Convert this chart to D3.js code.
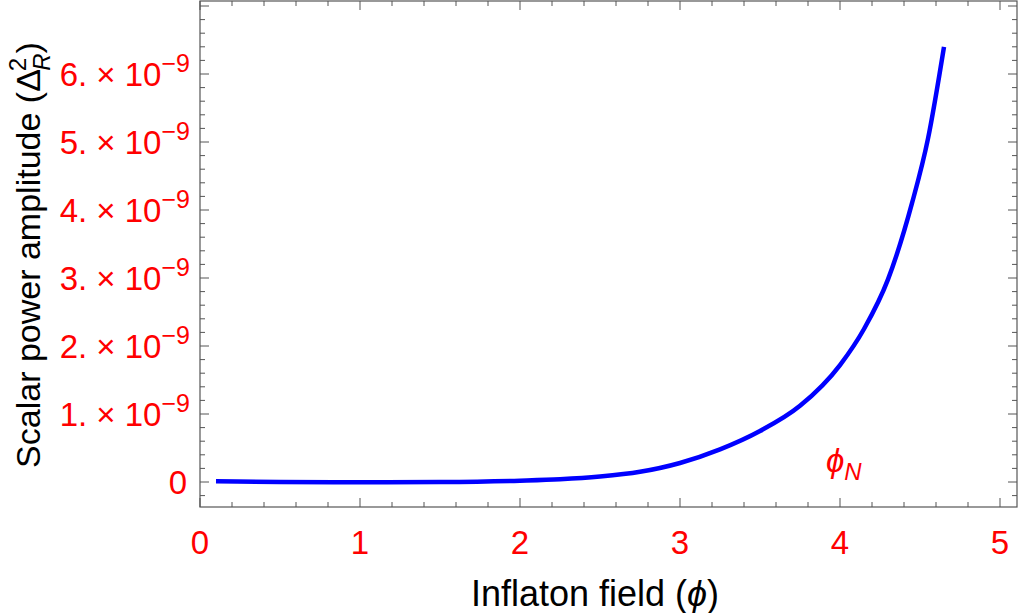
<!DOCTYPE html>
<html><head><meta charset="utf-8">
<script src="https://cdn.jsdelivr.net/npm/d3@7"></script>
<style>body{margin:0;background:#fff}text{font-family:"Liberation Sans",Arial,sans-serif}</style>
</head><body><svg id="chart" width="1020" height="613"></svg>
<script>
const phi = [0.1, 0.5, 1.0, 1.5, 2.0, 2.25, 2.5, 2.75, 3.0, 3.25, 3.5, 3.75, 4.0, 4.15, 4.3, 4.45, 4.55, 4.65];
const amp = [0.01, 0.0, -0.005, 0.0, 0.02, 0.04, 0.08, 0.15, 0.28, 0.48, 0.75, 1.12, 1.72, 2.25, 2.98, 4.1, 5.05, 6.4];
const yTicks = [1, 2, 3, 4, 5, 6];
const xTicks = [0, 1, 2, 3, 4, 5];

const svg = d3.select('#chart');
const m = {left: 200, right: 1017, top: 1, bottom: 507};
const x = d3.scaleLinear().domain([0, 5.1]).range([m.left, m.left + 160 * 5.1]);
const y = d3.scaleLinear().domain([0, 1]).range([482, 414]);

// frame
svg.append('rect').attr('x', m.left).attr('y', m.top).attr('width', m.right - m.left).attr('height', m.bottom - m.top)
  .attr('fill', 'none').attr('stroke', '#555').attr('stroke-width', 1.2);

// ticks
const g = svg.append('g').attr('stroke', '#555');
d3.range(0, 5.11, 0.2).forEach(v => {
  const major = Math.abs(v - Math.round(v)) < 1e-6;
  const len = major ? 9 : 5;
  g.append('line').attr('x1', x(v)).attr('x2', x(v)).attr('y1', m.bottom).attr('y2', m.bottom - len);
  g.append('line').attr('x1', x(v)).attr('x2', x(v)).attr('y1', m.top).attr('y2', m.top + len);
});
d3.range(-0.2, 7.1, 0.2).forEach(v => {
  const major = Math.abs(v - Math.round(v)) < 1e-6;
  const len = major ? 9 : 5;
  if (y(v) < m.top || y(v) > m.bottom) return;
  g.append('line').attr('y1', y(v)).attr('y2', y(v)).attr('x1', m.left).attr('x2', m.left + len);
  g.append('line').attr('y1', y(v)).attr('y2', y(v)).attr('x1', m.right).attr('x2', m.right - len);
});

// x tick labels
svg.selectAll('.xl').data(xTicks).join('text').attr('x', d => x(d)).attr('y', 554)
  .attr('text-anchor', 'middle').attr('fill', 'red').attr('font-size', 33).text(d => d);

// y tick labels
svg.append('text').attr('x', 187).attr('y', y(0) + 12).attr('text-anchor', 'end')
  .attr('fill', 'red').attr('font-size', 33).text('0');
yTicks.forEach(d => {
  const t = svg.append('text').attr('x', 190).attr('y', y(d) + 12).attr('text-anchor', 'end')
    .attr('fill', 'red').attr('font-size', 33);
  t.append('tspan').text(d + '. \u00d7 10');
  t.append('tspan').attr('dy', -14).attr('font-size', 25).text('\u22129');
});

// curve
svg.append('path').datum(phi.map((p, i) => [p, amp[i]]))
  .attr('d', d3.line().x(d => x(d[0])).y(d => y(d[1])).curve(d3.curveMonotoneX))
  .attr('fill', 'none').attr('stroke', '#0000ff').attr('stroke-width', 4.5);

// annotation
const ann = svg.append('text').attr('x', 826).attr('y', 472).attr('fill', 'red').attr('font-size', 33).attr('font-style', 'italic');
ann.append('tspan').text('\u03d5');
ann.append('tspan').attr('dy', 8).attr('font-size', 24).text('N');

// axis titles
const xt = svg.append('text').attr('x', 595).attr('y', 606).attr('text-anchor', 'middle').attr('font-size', 36);
xt.append('tspan').text('Inflaton field (');
xt.append('tspan').attr('font-style', 'italic').text('\u03d5');
xt.append('tspan').text(')');

const yt = svg.append('text').attr('transform', 'translate(40,255) rotate(-90)').attr('text-anchor', 'middle').attr('font-size', 34);
yt.append('tspan').text('Scalar power amplitude (\u0394');
yt.append('tspan').attr('dy', -14).attr('dx', -2).attr('font-size', 24).text('2');
yt.append('tspan').attr('dy', 24).attr('dx', -13).attr('font-size', 24).attr('font-style', 'italic').text('R');
yt.append('tspan').attr('dy', -10).text(')');
</script></body></html>
